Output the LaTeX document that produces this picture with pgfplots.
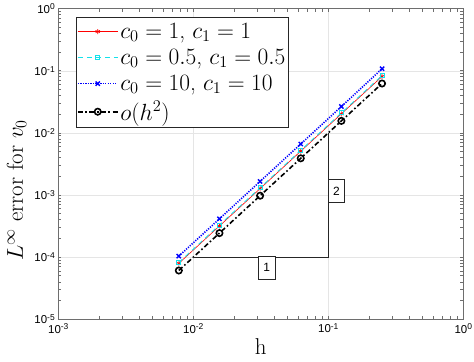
\documentclass[border=0pt]{standalone}
\usepackage{fix-cm}
\usepackage{pgfplots}
\pgfplotsset{compat=1.18}
\usepackage{fontspec}
\newfontfamily\arial{Liberation Sans}
\newcommand{\tl}[1]{10\raisebox{0.55ex}{\fontsize{8.5}{9}\selectfont #1}}
\definecolor{axgray}{RGB}{110,110,110}
\definecolor{mycyan}{RGB}{20,225,235}
\begin{document}
\begin{tikzpicture}
\begin{axis}[
  scale only axis, width=405bp, height=310.6bp,
  xmode=log, ymode=log,
  xmin=1e-3, xmax=1, ymin=1e-5, ymax=1,
  xtick={1e-3,1e-2,1e-1,1},
  xticklabels={\tl{-3},\tl{-2},\tl{-1},\tl{0}},
  ytick={1e-5,1e-4,1e-3,1e-2,1e-1,1},
  yticklabels={\tl{-5},\tl{-4},\tl{-3},\tl{-2},\tl{-1},\tl{0}},
  minor tick num=0, minor xtick={}, minor ytick={},
  tick label style={font=\arial\fontsize{11.5}{13}\selectfont, black},
  xticklabel style={yshift=-1pt},
  xlabel={h}, ylabel={$L^\infty$ error for $v_0$},
  xlabel style={font=\fontsize{23}{26}\selectfont, yshift=1pt},
  ylabel style={font=\fontsize{23}{26}\selectfont, at={(axis description cs:-0.103,0.416)}, anchor=center},
  grid=major, major grid style={black!10, line width=0.6pt},
  axis line style={axgray, line width=1pt},
  major tick length=3pt,
  tick style={axgray, line width=0.8pt},
  legend style={at={(0.043,0.972)}, anchor=north west, draw=black!85, line width=0.8pt,
    font=\fontsize{23.5}{27}\selectfont, inner xsep=1pt, inner ysep=3.5pt, row sep=5.5pt},
  legend cell align=left,
  legend image code/.code={\draw[mark repeat=2,mark phase=2,#1] plot coordinates {(0cm,0cm) (0.7cm,0cm) (1.4cm,0cm)};},
]
\addplot[red, line width=0.6pt, mark=asterisk, mark size=2.5pt] coordinates {
 (0.0078125,7.95e-5) (0.015625,3.18e-4) (0.03125,1.27e-3) (0.0625,5.08e-3) (0.125,2.03e-2) (0.25,8.1e-2)};
\addlegendentry{$c_0=1$, $c_1=1$}
\addplot[mycyan, line width=0.9pt, dash pattern=on 5pt off 4pt, mark=square, mark size=2pt, mark options={solid}] coordinates {
 (0.0078125,8.2e-5) (0.015625,3.3e-4) (0.03125,1.31e-3) (0.0625,5.25e-3) (0.125,2.1e-2) (0.25,8.4e-2)};
\addlegendentry{$c_0=0.5$, $c_1=0.5$}
\addplot[blue, line width=1.6pt, dash pattern=on 1.2pt off 1.3pt, mark=x, mark size=3pt, mark options={solid, line width=1.4pt}] coordinates {
 (0.0078125,1.04e-4) (0.015625,4.15e-4) (0.03125,1.66e-3) (0.0625,6.64e-3) (0.125,2.66e-2) (0.25,0.108)};
\addlegendentry{$c_0=10$, $c_1=10$}
\addplot[black, line width=1.6pt, dash pattern=on 5pt off 2.5pt on 1.6pt off 2.5pt, mark=o, mark size=3.2pt, mark options={solid, line width=1.6pt}] coordinates {
 (0.0078125,6.1035e-5) (0.015625,2.4414e-4) (0.03125,9.7656e-4) (0.0625,3.9063e-3) (0.125,1.5625e-2) (0.25,6.25e-2)};
\addlegendentry{$o(h^2)$}
\addplot[black!85, line width=0.8pt, forget plot] coordinates {(0.01,1e-4) (0.1,1e-4) (0.1,1e-2)};
\node[draw=black!85, line width=0.8pt, fill=white, font=\arial\fontsize{12}{14}\selectfont, inner xsep=5pt, inner ysep=7.5pt] at (axis cs:0.035,6.8e-5) {1};
\node[draw=black!85, line width=0.8pt, fill=white, font=\arial\fontsize{12}{14}\selectfont, inner xsep=5pt, inner ysep=7.5pt] at (axis cs:0.115,1.17e-3) {2};
\end{axis}
\pgfresetboundingbox
\path ([xshift=-58.3bp, yshift=-42.7bp]current axis.south west) rectangle ([xshift=10.7bp, yshift=8.7bp]current axis.north east);
\end{tikzpicture}
\end{document}
